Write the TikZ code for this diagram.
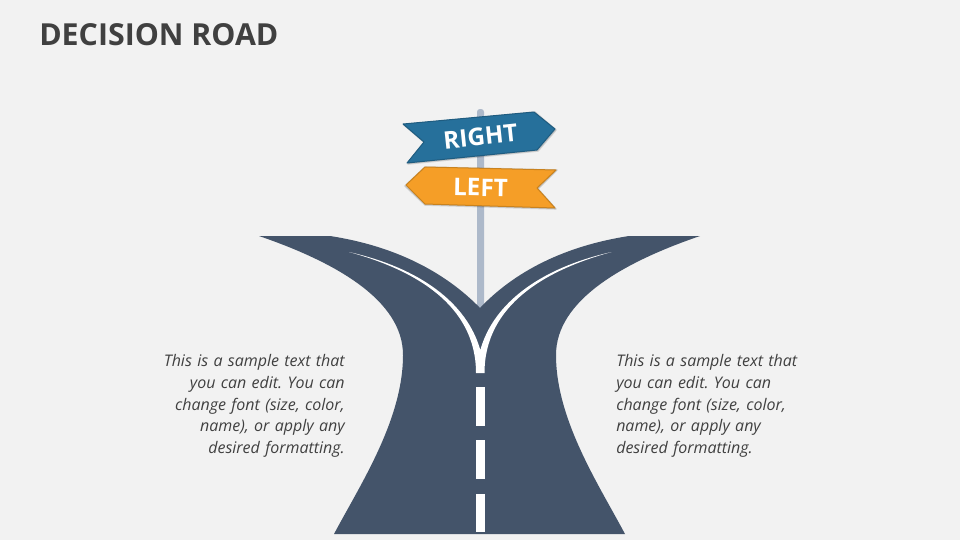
\documentclass[tikz,border=0pt]{standalone}
\usepackage{fontspec}
\setmainfont{Open Sans}
\definecolor{bgc}{HTML}{F2F2F2}
\definecolor{roadc}{HTML}{44546A}
\definecolor{polec}{HTML}{ADB9CA}
\definecolor{bluec}{HTML}{26709B}
\definecolor{blueb}{HTML}{1F5C80}
\definecolor{orangec}{HTML}{F59E27}
\definecolor{orangeb}{HTML}{C9821E}
\definecolor{titlec}{HTML}{404040}
\tikzset{
  x=0.75pt,y=-0.75pt,
  titletext/.style={font=\bfseries\fontsize{22.75}{28}\selectfont,text=titlec,anchor=west,inner sep=0pt},
  bodytext/.style={font=\itshape\fontsize{12}{16.2}\selectfont,text=titlec,inner sep=0pt,text width=200*0.75pt},
  signtext/.style={font=\bfseries\fontsize{18.2}{20}\selectfont,text=white,inner sep=0pt},
  signshadow/.style={fill=black,draw=black,line width=1.2pt,opacity=0.12,line join=round},
}
\begin{document}
\frenchspacing
\begin{tikzpicture}
\useasboundingbox[fill=bgc] (0,0) rectangle (960,540);
\node[titletext] (title) at (39,35) {DECISION ROAD};

% pole
\fill[polec,rounded corners=2.2pt] (477,109) rectangle (484,320);

% road
\fill[roadc]
  (334,534) .. controls (360,485) and (403,420) .. (403,355)
  .. controls (403,300) and (335,262) .. (259,236)
  -- (330,236)
  .. controls (395,246) and (445,272) .. (480,308)
  .. controls (514,272) and (564,246) .. (629,236)
  -- (700,236)
  .. controls (624,262) and (556,300) .. (556,355)
  .. controls (556,420) and (599,485) .. (625,534)
  -- cycle;

% white lane marking
\fill[white]
  (349,252) .. controls (415,270) and (476,305) .. (476,373)
  -- (484.5,373)
  .. controls (484.5,305) and (545.5,270) .. (611.5,252)
  .. controls (540.5,268) and (493.5,303) .. (480.3,350)
  .. controls (467,303) and (420,268) .. (349,252)
  -- cycle;

\fill[white] (476,387) rectangle (485,426);
\fill[white] (476,440) rectangle (485,479);
\fill[white] (476,494) rectangle (485,532);

% signs
\fill[signshadow] (404,125) -- (535,112) -- (556,130) -- (538,151) -- (408,164) -- (425,143) -- cycle;
\fill[signshadow] (425,167) -- (557,170) -- (538,189) -- (556,209) -- (425,205) -- (405,186) -- cycle;
\filldraw[fill=bluec,draw=blueb,line width=0.75pt,line join=round]
  (403,124) -- (534,112) -- (555,129) -- (537,150) -- (407,163) -- (424,142) -- cycle;
\filldraw[fill=orangec,draw=orangeb,line width=0.75pt,line join=round]
  (425,167) -- (556,170) -- (537,188) -- (555,208) -- (425,204) -- (406,185) -- cycle;
\node[signtext,rotate=6] (right) at (480.5,136.5) {RIGHT};
\node[signtext,rotate=-1] (left) at (480.5,187.5) {LEFT};

% texts
\node[bodytext,align=right,anchor=north east] (ltext) at (345,354.5) {This is a sample text that\\you can edit. You can\\change font (size, color,\\name), or apply any\\desired formatting.};
\node[bodytext,align=left,anchor=north west] (rtext) at (616,354.5) {This is a sample text that\\you can edit. You can\\change font (size, color,\\name), or apply any\\desired formatting.};
\end{tikzpicture}
\end{document}
